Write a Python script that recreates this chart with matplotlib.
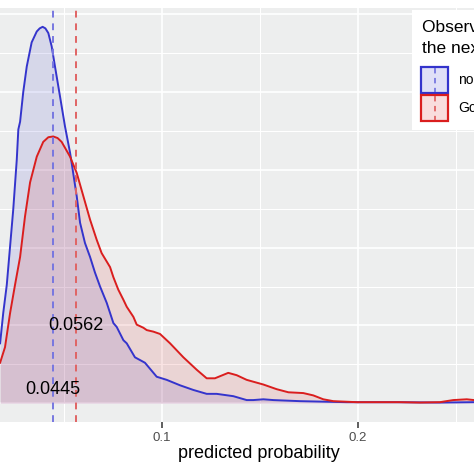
import numpy as np
import matplotlib
import matplotlib.pyplot as plt
from matplotlib.patches import Rectangle
from matplotlib.lines import Line2D

matplotlib.use('Agg')
plt.rcParams['font.family'] = ['Liberation Sans', 'DejaVu Sans']

# density curves (x = predicted probability, y = density)
no_x = [0.0174, 0.0190, 0.0208, 0.0241, 0.0259, 0.0267, 0.0276, 0.0292, 0.0310, 0.0335,
        0.0361, 0.0376, 0.0391, 0.0405, 0.0420, 0.0437, 0.0454, 0.0480, 0.0505, 0.0531,
        0.0539, 0.0565, 0.0582, 0.0607, 0.0633, 0.0658, 0.0684, 0.0718, 0.0752, 0.0769,
        0.0803, 0.0820, 0.0862, 0.0913, 0.0973, 0.1024, 0.1092, 0.1160, 0.1228, 0.1279,
        0.1364, 0.1432, 0.1466, 0.1517, 0.1568, 0.1704, 0.1942, 0.2198, 0.2418, 0.2592]
no_y = [7.7, 11.6, 15.2, 24.9, 31.3, 35.2, 36.2, 40.0, 43.3, 46.4,
        47.8, 48.2, 48.4, 48.2, 47.6, 45.9, 43.3, 39.4, 35.6, 32.2,
        30.9, 26.6, 23.2, 20.6, 18.8, 16.8, 15.0, 12.9, 10.3, 9.8,
        8.1, 7.7, 5.9, 5.2, 3.4, 3.0, 2.3, 1.7, 1.2, 1.2,
        0.9, 0.4, 0.4, 0.5, 0.4, 0.26, 0.13, 0.13, 0.08, 0.13]

go_x = [0.0174, 0.0199, 0.0225, 0.0250, 0.0276, 0.0301, 0.0327, 0.0361, 0.0394, 0.0420,
        0.0445, 0.0467, 0.0488, 0.0531, 0.0565, 0.0599, 0.0633, 0.0667, 0.0692, 0.0735,
        0.0752, 0.0777, 0.0803, 0.0820, 0.0854, 0.0871, 0.0905, 0.0922, 0.0956, 0.0990,
        0.1041, 0.1109, 0.1177, 0.1228, 0.1270, 0.1338, 0.1381, 0.1432, 0.1517, 0.1585,
        0.1645, 0.1721, 0.1772, 0.1823, 0.1874, 0.1994, 0.2112, 0.2214, 0.2316, 0.2418,
        0.2486, 0.2555, 0.2592]
go_y = [5.2, 7.2, 11.6, 15.2, 18.8, 24.0, 28.4, 31.7, 33.6, 34.2,
        34.3, 34.1, 33.6, 31.7, 29.6, 26.6, 23.6, 21.0, 19.3, 17.5,
        16.2, 14.6, 13.3, 12.4, 11.1, 10.1, 9.7, 9.4, 9.2, 8.9,
        7.7, 5.9, 4.3, 3.2, 3.2, 3.9, 3.6, 3.0, 2.4, 1.8,
        1.4, 1.3, 1.0, 0.5, 0.26, 0.13, 0.13, 0.13, 0.08, 0.13,
        0.4, 0.5, 0.4]

means = [0.0445, 0.0562]
mean_label_y = [1.8, 10.0]
groups = ['no', 'Gold']
legend_title = ['Observed in', 'the next year']

line_cols = ['#3434CC', '#DA1E1E']
vline_cols = ['#7777E0', '#E06464']

W = 474


def fx(px):
    return px / W


def fy(py):
    return 1 - py / W


fig = plt.figure(figsize=(4.74, 4.74), dpi=100)
ax = fig.add_axes([0, 52 / W, 1, 414 / W])
ax.set_facecolor('#EDEEEE')

curves = [(no_x, no_y), (go_x, go_y)]
for (xs, ys), c in zip(curves, line_cols):
    ax.fill_between(xs, 0, ys, color=c, alpha=0.12, lw=0, zorder=2)
for (xs, ys), c in zip(curves, line_cols):
    ax.plot(xs, ys, color=c, lw=1.4, zorder=3, solid_joinstyle='round')

for m, c in zip(means, vline_cols):
    ax.axvline(m, color=c, lw=1.4, ls=(0, (3.5, 3)), zorder=4)

for m, yy in zip(means, mean_label_y):
    ax.text(m, yy, f'{m}', ha='center', va='center', fontsize=13, color='black', zorder=5)

peak = max(no_y)
ax.set_ylim(-0.05 * peak, 1.05 * peak)
ax.set_xlim(0.1 - 162 / 1960, 0.1 + 312 / 1960)

ax.set_xticks([0.1, 0.2])
ax.set_xticklabels(['0.1', '0.2'])
ax.set_xticks([0.05, 0.15, 0.25], minor=True)
ax.set_yticks(np.arange(0, 51, 10))
ax.set_yticks(np.arange(5, 51, 10), minor=True)
ax.grid(which='major', color='white', lw=1.2, zorder=0)
ax.grid(which='minor', color='white', lw=0.8, zorder=0)
ax.set_axisbelow(True)
ax.tick_params(axis='x', which='major', length=4, width=1.1, color='#333333',
               labelsize=9.5, labelcolor='#4D4D4D', pad=3)
ax.tick_params(axis='x', which='minor', length=0)
ax.tick_params(axis='y', which='both', length=0, labelleft=False)
for s in ax.spines.values():
    s.set_visible(False)

ax.set_xlabel('predicted probability', fontsize=13)
ax.xaxis.set_label_coords(259 / W, -31 / 414)
ax.xaxis.label.set_verticalalignment('center')

# legend drawn by hand (ggplot style, inside the panel at the top right)
fig.patches.append(Rectangle((fx(412), fy(130)), fx(80), 120 / W, transform=fig.transFigure,
                             facecolor='white', edgecolor='none', zorder=10))
for i, line in enumerate(legend_title):
    fig.text(fx(422), fy(28 + 20 * i), line, fontsize=12.5, va='center', ha='left', zorder=11)
for i, (lab, c, vc) in enumerate(zip(groups, line_cols, vline_cols)):
    top = 67 + 28 * i
    fig.patches.append(Rectangle((fx(421), fy(top + 26)), fx(27), 26 / W,
                                 transform=fig.transFigure,
                                 facecolor=matplotlib.colors.to_rgba(c, 0.15),
                                 edgecolor=c, lw=1.6, zorder=11))
    fig.lines.append(Line2D([fx(434.5)] * 2, [fy(top + 1), fy(top + 25)],
                            transform=fig.transFigure, color=vc, lw=1.3,
                            ls=(0, (3, 2.5)), zorder=12))
    fig.text(fx(458), fy(top + 13), lab, fontsize=10, va='center', ha='left', zorder=11)

fig.savefig('out.png', dpi=100)
